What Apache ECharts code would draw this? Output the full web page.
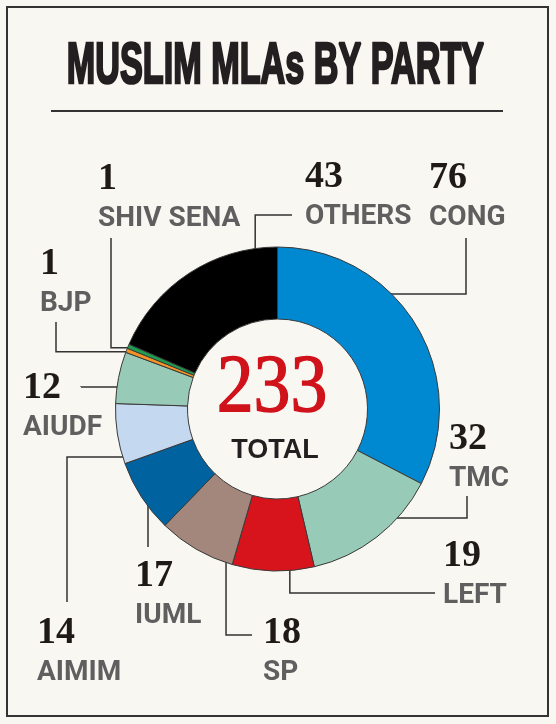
<!DOCTYPE html>
<html><head><meta charset="utf-8">
<script src="https://cdn.jsdelivr.net/npm/echarts@6/dist/echarts.min.js"></script>
<style>html,body{margin:0;padding:0;background:#f9f7f2;}#c{width:556px;height:724px;}</style>
</head><body><div id="c"></div>
<script>
// ---- data ----
const parties = ['CONG', 'TMC', 'LEFT', 'SP', 'IUML', 'AIMIM', 'AIUDF', 'BJP', 'SHIV SENA', 'OTHERS'];
const mlas = [76, 32, 19, 18, 17, 14, 12, 1, 1, 43];
const colors = ['#0088d1', '#98cab8', '#d7141c', '#a3877c', '#0063a0', '#c4d8ef', '#98cab8', '#f39325', '#1e9e50', '#000000'];
const titleText = 'MUSLIM MLAs BY PARTY';
const totalLabel = 'TOTAL';

// ---- layout (positions only) ----
const CX = 277.5, CY = 409, R_IN = 90, R_OUT = 162;
// label: x = text left, y = top of the number; end = where the leader line meets the label;
// frac/r = where the leader line starts inside the slice; route h = horizontal first, v = vertical first
const labelPos = {
  'CONG':      {x: 429, y: 162, end: [466, 238], frac: 0.32, r: 145, route: 'h'},
  'TMC':       {x: 449, y: 423, end: [467, 496], frac: 0.46, r: 142, route: 'h'},
  'LEFT':      {x: 443, y: 540, end: [435, 593], frac: 0.28, r: 144, route: 'v'},
  'SP':        {x: 263, y: 617, end: [252, 635], frac: 0.33, r: 120, route: 'v'},
  'IUML':      {x: 135, y: 560, end: [148, 547], frac: 0.35, r: 148, route: 'h'},
  'AIMIM':     {x: 37,  y: 617, end: [67, 602],  frac: 0.06, r: 152, route: 'h'},
  'AIUDF':     {x: 23,  y: 372, end: [81, 387],  frac: 0.35, r: 151, route: 'h'},
  'BJP':       {x: 40,  y: 248, end: [56, 322],  frac: 0.5,  r: 158, route: 'h'},
  'SHIV SENA': {x: 98,  y: 163, end: [111, 238], frac: 0.5,  r: 158, route: 'h'},
  'OTHERS':    {x: 305, y: 161, end: [292, 215], frac: 0.86, r: 138, route: 'v'}
};

const total = mlas.reduce((a, b) => a + b, 0);
const cum = [];
mlas.reduce((s, v) => { cum.push(s); return s + v; }, 0);
function anchorPoint(i, frac, r) {
  const th = (cum[i] + frac * mlas[i]) / total * 2 * Math.PI;
  return [CX + r * Math.sin(th), CY - r * Math.cos(th)];
}

const chart = echarts.init(document.getElementById('c'));
chart.setOption({
  backgroundColor: '#f9f7f2',
  animation: false,
  graphic: [
    {type: 'rect', shape: {x: 7, y: 7, width: 541, height: 709}, style: {fill: 'none', stroke: '#333', lineWidth: 2}, silent: true},
    {type: 'line', shape: {x1: 51, y1: 111, x2: 503, y2: 111}, style: {stroke: '#333', lineWidth: 2}, silent: true},
    {type: 'text', x: 275.5, y: 67, scaleX: 0.6, silent: true,
      style: {text: titleText, fill: '#231f20', stroke: '#231f20', lineWidth: 2.6, font: 'bold 57px "Liberation Sans", Arial, sans-serif', textAlign: 'center', textVerticalAlign: 'middle'}},
    {type: 'text', x: 272, y: 389, scaleX: 0.9, silent: true,
      style: {text: String(total), fill: '#d0121b', stroke: '#d0121b', lineWidth: 1.4, font: '82px "Liberation Serif", "Times New Roman", serif', textAlign: 'center', textVerticalAlign: 'middle'}},
    {type: 'text', x: 275, y: 451, silent: true,
      style: {text: totalLabel, fill: '#231f20', font: 'bold 27px "Liberation Sans", Arial, sans-serif', textAlign: 'center', textVerticalAlign: 'middle'}}
  ],
  series: [{
    type: 'pie',
    center: [CX, CY],
    radius: [R_IN, R_OUT],
    startAngle: 90,
    clockwise: true,
    avoidLabelOverlap: false,
    silent: true,
    itemStyle: {borderColor: '#3a3a3a', borderWidth: 1},
    label: {
      show: true,
      position: 'outside',
      formatter: p => '{v|' + p.value + '}\n{n|' + p.name + '}',
      rich: {
        v: {fontFamily: '"Liberation Serif", "Times New Roman", serif', fontWeight: 'bold', fontSize: 38, lineHeight: 42, color: '#1f1a17'},
        n: {fontFamily: 'Roboto, "Liberation Sans", Arial, sans-serif', fontWeight: 'bold', fontSize: 28, lineHeight: 38, color: '#5f5f5f'}
      }
    },
    labelLine: {show: true, smooth: false, lineStyle: {color: '#333', width: 1.5}},
    labelLayout: function (params) {
      const i = params.dataIndex;
      const L = labelPos[parties[i]];
      const a = anchorPoint(i, L.frac, L.r);
      const elbow = L.route === 'h' ? [L.end[0], a[1]] : [a[0], L.end[1]];
      return {
        x: L.x, y: L.y - 5, align: 'left', verticalAlign: 'top',
        labelLinePoints: [a, elbow, L.end]
      };
    },
    data: parties.map((n, i) => ({name: n, value: mlas[i], itemStyle: {color: colors[i]}}))
  }]
});
</script></body></html>
